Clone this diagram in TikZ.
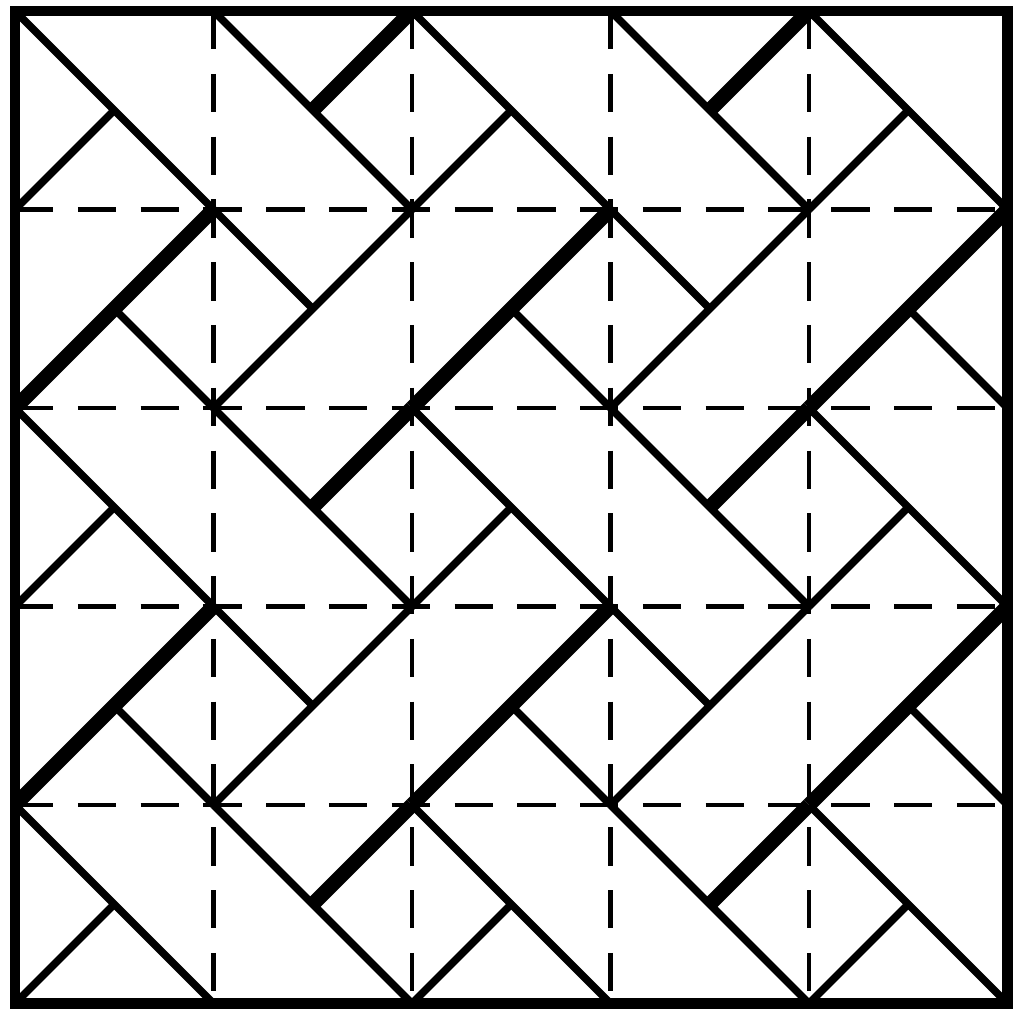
\documentclass[tikz,border=0pt]{standalone}
\usepackage{tikz}
\begin{document}
\begin{tikzpicture}[x=2cm,y=-2cm]
        \tikzset{
        frame/.style={line width=2.9pt},
        guide/.style={line width=1.3pt, dash pattern=on 11pt off 7pt},
        seam/.style={line width=2.2pt},
        shade/.style={line width=4.2pt},
        }
        \useasboundingbox (-0.0756,-0.0554) rectangle (5.083,5.093);

        % dashed guide lines
        \foreach \k in {1,...,4} {
          \draw[guide] (\k,0) -- (\k,5);
          \draw[guide] (0,\k) -- (5,\k);
        }

        % repeating 2x2 block of the pattern
        \begin{scope}
        \clip (0,0) rectangle (5,5);
        \foreach \i in {0,2,4} {
          \foreach \j in {0,2,4} {
            \draw[seam] (\i,\j) -- ++(1.5,1.5);
            \draw[seam] (\i,\j+1) -- ++(0.5,-0.5);
            \draw[seam] (\i+1,\j) -- ++(1,1);
            \draw[seam] (\i+0.5,\j+1.5) -- ++(0.5,0.5);
            \draw[seam] (\i+1,\j+2) -- ++(1,-1);
            \draw[shade] (\i+1.5,\j+0.5) -- ++(0.5,-0.5);
            \draw[shade] (\i,\j+2) -- ++(1,-1);
          }
        }
        \end{scope}

        \draw[frame] (0,0) rectangle (5,5);
\end{tikzpicture}
\end{document}
